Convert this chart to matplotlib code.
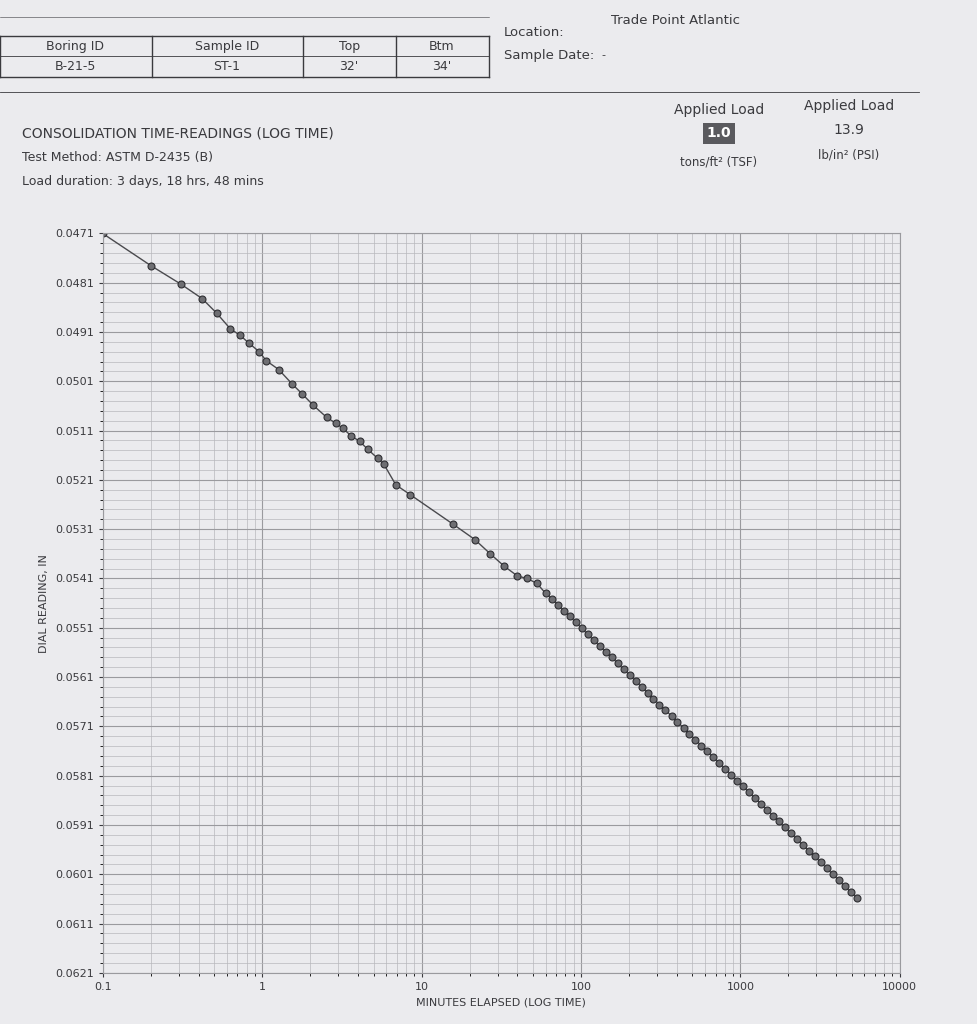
import numpy as np
import matplotlib
matplotlib.use("Agg")
import matplotlib.pyplot as plt
from matplotlib.ticker import FixedLocator, LogLocator, NullFormatter

# data: elapsed minutes vs dial reading (in)
t_early = [0.1, 0.20, 0.31, 0.42, 0.52, 0.63, 0.73, 0.83, 0.96, 1.06, 1.27, 1.55, 1.79,
           2.1, 2.54, 2.9, 3.2, 3.6, 4.1, 4.6, 5.3, 5.8, 6.9, 8.5, 15.8, 21.6, 27, 33,
           40, 46, 53]
d_early = [0.0471, 0.04775, 0.04813, 0.04842, 0.04872, 0.04903, 0.04917, 0.04933,
           0.04950, 0.04968, 0.04986, 0.05016, 0.05036, 0.05059, 0.05083, 0.05095,
           0.05105, 0.05120, 0.05132, 0.05148, 0.05166, 0.05178, 0.05220, 0.05240,
           0.05300, 0.05331, 0.05360, 0.05385, 0.05405, 0.05410, 0.05420]
t_late = [60, 66, 72, 78, 85, 93, 101, 110, 120, 131, 143, 156, 170, 185, 202, 220,
          240, 262, 285, 311, 339, 370, 403, 440, 479, 522, 569, 620, 676, 737, 803,
          876, 955, 1040, 1135, 1237, 1348, 1470, 1602, 1746, 1903, 2075, 2262, 2465,
          2687, 2929, 3193, 3480, 3793, 4135, 4507, 4913, 5408]
d_late = [0.05440, 0.05452, 0.05464, 0.05475, 0.05487, 0.05499, 0.05511, 0.05523,
          0.05535, 0.05547, 0.05559, 0.05570, 0.05582, 0.05594, 0.05606, 0.05618,
          0.05630, 0.05642, 0.05654, 0.05666, 0.05677, 0.05689, 0.05701, 0.05713,
          0.05725, 0.05737, 0.05749, 0.05761, 0.05772, 0.05784, 0.05796, 0.05808,
          0.05820, 0.05832, 0.05844, 0.05856, 0.05867, 0.05879, 0.05891, 0.05903,
          0.05915, 0.05927, 0.05939, 0.05951, 0.05962, 0.05974, 0.05986, 0.05998,
          0.06010, 0.06022, 0.06034, 0.06046, 0.06058]
n = min(len(t_late), len(d_late))
times = t_early + t_late[:n]
reads = d_early + d_late[:n]

y_ticks = [0.0471 + 0.001 * i for i in range(16)]
x_ticks = [0.1, 1, 10, 100, 1000, 10000]
x_labels = ["0.1", "1", "10", "100", "1000", "10000"]

bg = "#ebebee"
ink = "#3a3a3e"
fig = plt.figure(figsize=(9.78, 10.24), dpi=100, facecolor=bg)

# header table
def hline(y, x0, x1, lw=1.0):
    fig.add_artist(plt.Line2D([x0, x1], [y, y], color=ink, lw=lw, transform=fig.transFigure))
def vline(x, y0, y1, lw=1.0):
    fig.add_artist(plt.Line2D([x, x], [y0, y1], color=ink, lw=lw, transform=fig.transFigure))

top, mid, bot = 0.965, 0.945, 0.925
hline(top, 0.0, 0.50); hline(mid, 0.0, 0.50, 0.6); hline(bot, 0.0, 0.50)
hline(0.983, 0.0, 0.50, 0.4)
for x in [0.0, 0.155, 0.31, 0.405, 0.50]:
    vline(x, bot, top)
hline(0.91, 0.0, 0.94, 0.6)
cells = [("Boring ID", "B-21-5", 0.077), ("Sample ID", "ST-1", 0.232),
         ("Top", "32'", 0.357), ("Btm", "34'", 0.452)]
for head, val, x in cells:
    fig.text(x, (top + mid) / 2, head, ha="center", va="center", fontsize=9, color=ink)
    fig.text(x, (mid + bot) / 2, val, ha="center", va="center", fontsize=9, color=ink)
fig.text(0.515, 0.968, "Location:", fontsize=9.5, color=ink, va="center")
fig.text(0.515, 0.946, "Sample Date:", fontsize=9.5, color=ink, va="center")
fig.text(0.625, 0.980, "Trade Point Atlantic", fontsize=9.5, color=ink, va="center")
fig.text(0.615, 0.946, "-", fontsize=8, color=ink, va="center")

fig.text(0.022, 0.866, "CONSOLIDATION TIME-READINGS (LOG TIME)", fontsize=10, color=ink)
fig.text(0.022, 0.843, "Test Method: ASTM D-2435 (B)", fontsize=9, color=ink)
fig.text(0.022, 0.819, "Load duration: 3 days, 18 hrs, 48 mins", fontsize=9, color=ink)

fig.text(0.735, 0.889, "Applied Load", ha="center", fontsize=10, color=ink)
fig.text(0.735, 0.866, "1.0", ha="center", fontsize=10, color="white", weight="bold",
         bbox=dict(boxstyle="square,pad=0.25", fc="#5a5a5e", ec="none"))
fig.text(0.735, 0.838, "tons/ft² (TSF)", ha="center", fontsize=8.5, color=ink)
fig.text(0.868, 0.893, "Applied Load", ha="center", fontsize=10, color=ink)
fig.text(0.868, 0.869, "13.9", ha="center", fontsize=10, color=ink)
fig.text(0.868, 0.845, "lb/in² (PSI)", ha="center", fontsize=8.5, color=ink)

ax = fig.add_axes([0.105, 0.05, 0.815, 0.722])
ax.set_facecolor(bg)
ax.set_xscale("log")
ax.set_xlim(0.1, 10000)
ax.set_ylim(0.0621, 0.0471)
ax.xaxis.set_major_locator(FixedLocator(x_ticks))
ax.set_xticklabels(x_labels, fontsize=8, color=ink)
ax.xaxis.set_minor_locator(LogLocator(base=10, subs=np.arange(2, 10)))
ax.xaxis.set_minor_formatter(NullFormatter())
ax.set_yticks(y_ticks)
ax.set_yticklabels([f"{v:.4f}" for v in y_ticks], fontsize=8, color=ink)
ax.yaxis.set_minor_locator(FixedLocator(np.arange(0.0471, 0.0622, 0.0002)))
ax.grid(which="major", color="#9a9a9e", lw=0.8)
ax.grid(which="minor", color="#b8b8bc", lw=0.5)
for s in ax.spines.values():
    s.set_color("#9a9a9e")
ax.tick_params(colors=ink, length=3)
ax.set_xlabel("MINUTES ELAPSED (LOG TIME)", fontsize=8, color=ink)
ax.set_ylabel("DIAL READING, IN", fontsize=8, color=ink)

ax.plot(times, reads, color="#4a4a4e", lw=1.0, marker="o", ms=5,
        mfc="#6e6e72", mec="#2e2e32", mew=0.8)

plt.savefig("out.png", dpi=100, facecolor=bg)
